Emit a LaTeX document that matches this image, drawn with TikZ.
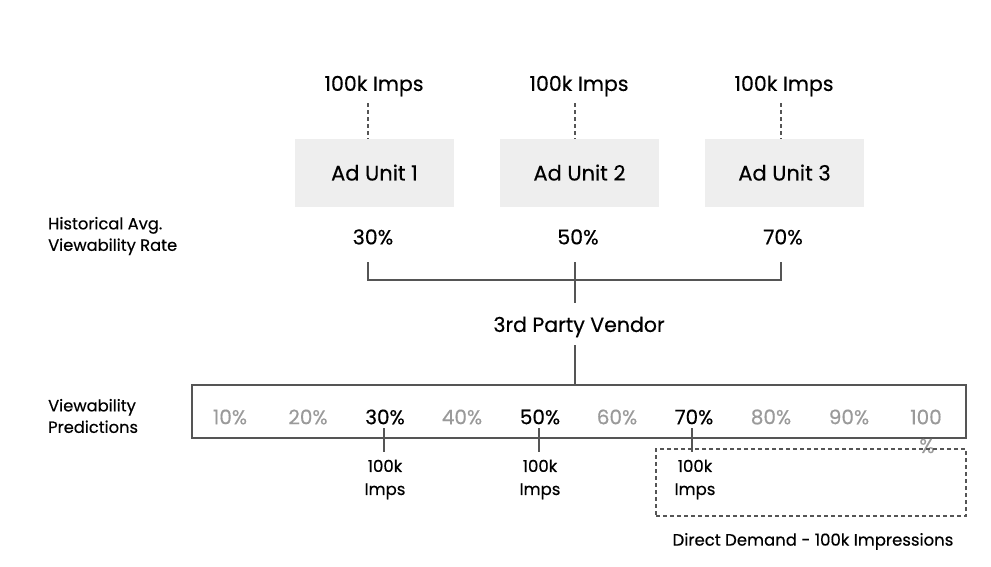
\documentclass[tikz,border=0pt]{standalone}
\usepackage{fontspec}
\setmainfont{Poppins}[FakeBold=0.4]
\definecolor{linegray}{HTML}{555555}
\definecolor{boxfill}{HTML}{EEEEEE}
\definecolor{softgray}{HTML}{9A9A9A}
\begin{document}
\begin{tikzpicture}[x=1pt,y=-1pt,
  big/.style={font=\fontsize{20.5}{22}\selectfont, text=black, inner sep=0pt},
  small/.style={font=\fontsize{16.5}{23}\selectfont, text=black, inner sep=0pt, align=center},
  leftlbl/.style={font=\fontsize{16.3}{21.5}\selectfont, text=black, inner sep=0pt, align=left, anchor=west},
  unitbox/.style={fill=boxfill, minimum width=159pt, minimum height=68pt, inner sep=0pt, font=\fontsize{21}{22}\selectfont},
  conn/.style={draw=linegray, line width=1.6pt},
  dconn/.style={draw=linegray, line width=1.4pt, dash pattern=on 4pt off 3pt},
  pct/.style={font=\fontsize{20}{22}\selectfont, inner sep=0pt, text=softgray},
  pcton/.style={pct, text=black}
]
\useasboundingbox (0,0) rectangle (991,566);

% top labels
\node[big] (i1) at (374,86) {100k Imps};
\node[big] (i2) at (579,86) {100k Imps};
\node[big] (i3) at (784,86) {100k Imps};

% ad units
\node[unitbox] (u1) at (374.5,173) {\raisebox{1pt}{Ad Unit 1}};
\node[unitbox] (u2) at (579.5,173) {\raisebox{1pt}{Ad Unit 2}};
\node[unitbox] (u3) at (784.5,173) {\raisebox{1pt}{Ad Unit 3}};

\coordinate (d1a) at (368,103); \coordinate (d1b) at (368,139);
\coordinate (d2a) at (575,103); \coordinate (d2b) at (575,139);
\coordinate (d3a) at (781,103); \coordinate (d3b) at (781,139);
\draw[dconn] (d1a) -- (d1b);
\draw[dconn] (d2a) -- (d2b);
\draw[dconn] (d3a) -- (d3b);

% historical rates
\node[leftlbl] (hist) at (48,236) {Historical Avg.\\Viewability Rate};
\node[big] (r1) at (373,237) {30\%};
\node[big] (r2) at (578,237) {50\%};
\node[big] (r3) at (783,237) {70\%};

% bracket
\coordinate (b1) at (368,262); \coordinate (b1d) at (368,280);
\coordinate (b2) at (575,262); \coordinate (b2d) at (575,303);
\coordinate (b3) at (781,262); \coordinate (b3d) at (781,280);
\draw[conn] (b1) -- (b1d) -- (b3d) -- (b3);
\draw[conn] (b2) -- (b2d);

\node[big] (vendor) at (579,327) {3rd Party Vendor};
\coordinate (v1) at (575,345);

% prediction bar
\node[leftlbl] (pred) at (48,416) {Viewability\\Predictions};
\node[draw=linegray, line width=1.6pt, minimum width=774pt, minimum height=53pt, inner sep=0pt] (bar) at (579,411.5) {};
\draw[conn] (v1) -- (bar.north -| v1);

\node[pct] (p10) at (230,417) {10\%};
\node[pct] (p20) at (308,417) {20\%};
\node[pcton] (p30) at (385,417) {30\%};
\node[pct] (p40) at (462,417) {40\%};
\node[pcton] (p50) at (540,417) {50\%};
\node[pct] (p60) at (617,417) {60\%};
\node[pcton] (p70) at (694,417) {70\%};
\node[pct] (p80) at (771,417) {80\%};
\node[pct] (p90) at (849,417) {90\%};
\node[pct] (p100) at (926,417) {100};
\node[pct] (ppc) at (927,446) {\%};

% dashed direct demand box
\node[dconn, minimum width=310pt, minimum height=67pt, inner sep=0pt] (dd) at (811,482.5) {};

% imps under bar
\node[small] (m1) at (385,479.5) {100k\\Imps};
\node[small] (m2) at (540,479.5) {100k\\Imps};
\node[small] (m3) at (695,479.5) {100k\\Imps};

\coordinate (t1) at (384,428); \coordinate (t1b) at (384,452);
\coordinate (t2) at (539,428); \coordinate (t2b) at (539,452);
\coordinate (t3) at (692,428); \coordinate (t3b) at (692,452);
\draw[conn] (t1) -- (t1b);
\draw[conn] (t2) -- (t2b);
\draw[conn] (t3) -- (t3b);

\node[small] (direct) at (813,541.5) {Direct Demand - 100k Impressions};
\end{tikzpicture}
\end{document}
